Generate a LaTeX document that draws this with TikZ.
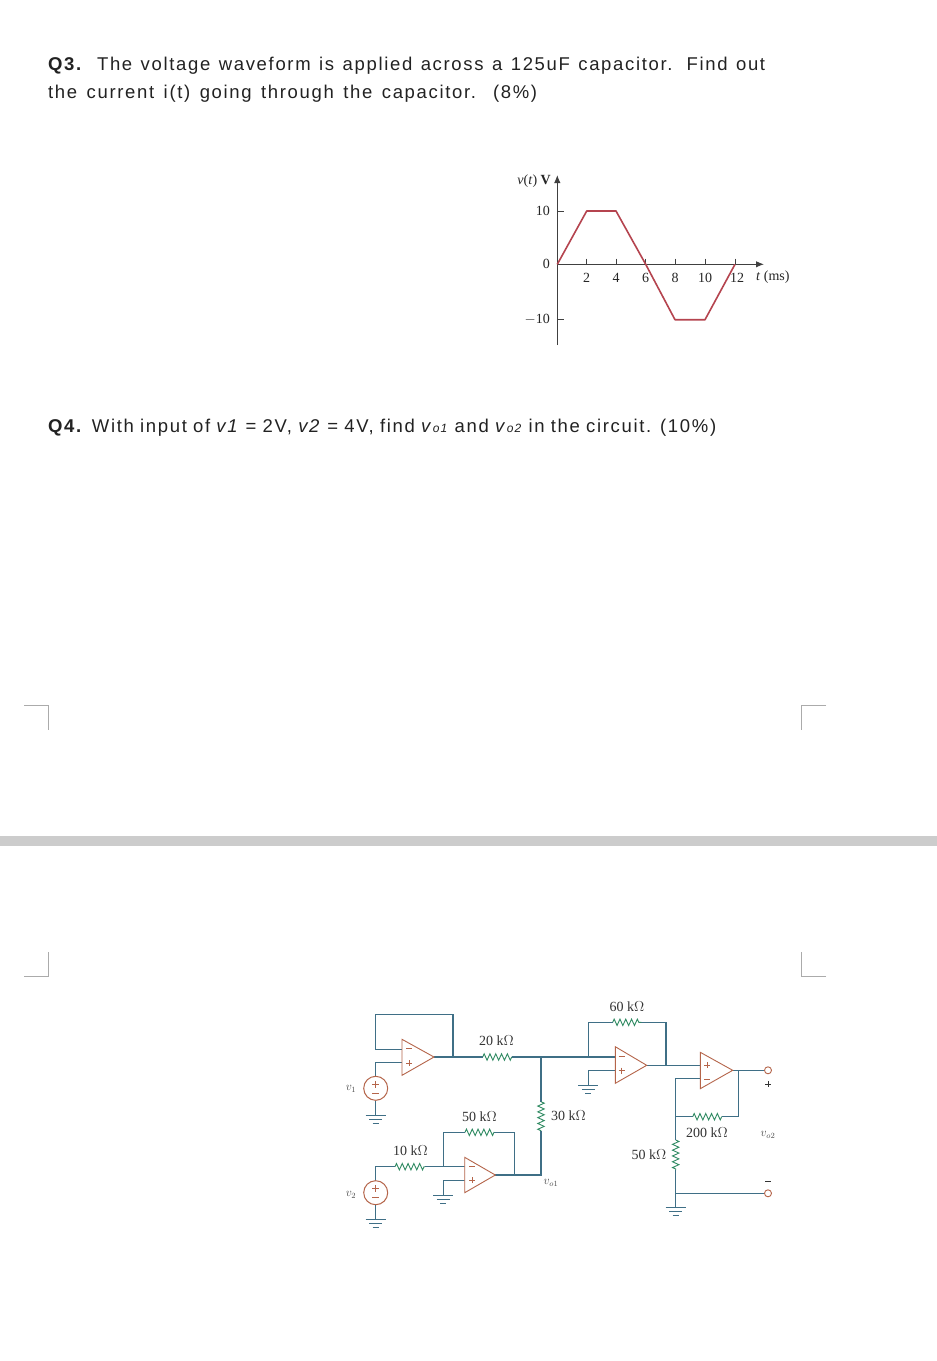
\documentclass[tikz,border=0pt]{standalone}
\usepackage{fontspec}
\setmainfont{Liberation Serif}
\newfontfamily\qfont[LetterSpace=9]{Liberation Sans}
\usetikzlibrary{decorations.pathmorphing,arrows.meta}
\definecolor{wirec}{HTML}{3F6F86}
\definecolor{resc}{HTML}{2F8A62}
\definecolor{ampc}{HTML}{B5654A}
\definecolor{wavec}{HTML}{B5444F}
\definecolor{cropc}{HTML}{ABABAB}
\definecolor{txt}{HTML}{222222}
\tikzset{
 x=1pt,y=-1pt,
 wire/.style={draw=wirec,line width=1.1pt},
 res/.style={draw=resc,line width=.9pt,decorate,decoration={zigzag,segment length=5.8pt,amplitude=3.2pt}},
 amp/.style={draw=ampc,line width=.9pt,fill=white},
 srcc/.style={draw=ampc,line width=1pt,fill=white},
 gnd/.style={draw=wirec,line width=1pt},
 term/.style={draw=ampc,line width=.9pt,fill=white},
 crop/.style={draw=cropc,line width=1pt},
 qtext/.style={anchor=base west,inner sep=0pt,font=\qfont\fontsize{18.5}{20}\selectfont,text=txt},
 clab/.style={inner sep=0pt,font=\fontsize{14}{16}\selectfont,text=black!80},
 glab/.style={inner sep=0pt,font=\fontsize{14}{16}\selectfont,text=black!85},
 sml/.style={inner sep=0pt,font=\itshape\fontsize{11.5}{13}\selectfont,text=black!70},
 axis/.style={draw=black!75,line width=1.1pt},
}
\newcommand{\gndsym}[2]{\draw[gnd] (#1-10,#2) -- (#1+10,#2) (#1-6.5,#2+4) -- (#1+6.5,#2+4) (#1-3,#2+8) -- (#1+3,#2+8);}
\newcommand{\src}[3]{\node[srcc,circle,minimum size=24pt,inner sep=0pt] (#3) at (#1,#2) {};
 \draw[ampc,line width=1pt] (#1-3.5,#2-4) -- (#1+3.5,#2-4) (#1,#2-7.5) -- (#1,#2-.5) (#1-3.5,#2+5) -- (#1+3.5,#2+5);}
\begin{document}
\begin{tikzpicture}
\useasboundingbox (0,0) rectangle (937,1361);
\fill[white] (0,0) rectangle (937,1361);
% text
\node[qtext] (q3a) at (48,70) {\makebox[717pt][s]{\textbf{Q3.} The voltage waveform is applied across a 125uF capacitor. Find out}};
\node[qtext] (q3b) at (48,98) {\makebox[489pt][s]{the current i(t) going through the capacitor. (8\%)}};
\node[qtext] (q4) at (48,432) {\makebox[668pt][s]{\textbf{Q4.} With input of \textit{v1} = 2V, \textit{v2} = 4V, find \textit{v}{\fontsize{12}{12}\selectfont\textit{o1}} and \textit{v}{\fontsize{12}{12}\selectfont\textit{o2}} in the circuit. (10\%)}};
% band and crops
\fill[black!20] (0,836) rectangle (937,846);
\draw[crop] (24,705) -- (48.5,705) -- (48.5,730);
\draw[crop] (826,705) -- (801.5,705) -- (801.5,730);
\draw[crop] (24,976) -- (48.5,976) -- (48.5,952);
\draw[crop] (826,976) -- (801.5,976) -- (801.5,952);
% graph
\coordinate (o) at (557.3,264.3);
\draw[axis,-{Latex[length=8pt,width=6.5pt]}] (557.3,345) -- (557.3,175);
\draw[axis,-{Latex[length=8pt,width=6.5pt]}] (o) -- (764,264.3);
\foreach \x in {586.7,616,645.7,675,705,735} \draw[black!75,line width=.8pt] (\x,258.5) -- (\x,264.3);
\foreach \y in {211,319.7} \draw[black!75,line width=.8pt] (557.3,\y) -- (564,\y);
\draw[wavec,line width=1.6pt,line join=round] (o) -- (586.7,211) -- (616,211) -- (645.7,264.3) -- (675,319.7) -- (705,319.7) -- (735,264.3);
\node[glab,anchor=east] (n10) at (550,211) {10};
\node[glab,anchor=east] (n0) at (550,264) {0};
\node[glab,anchor=east] (nm10) at (550,319.7) {$-$10};
\foreach \x/\t in {586.7/2,616/4,645.7/6,675/8,705/10,737/12} \node[glab] (t\t) at (\x,278) {\t};
\node[glab,anchor=west] (tl) at (756,277) {\textit{t} (ms)};
\node[glab,anchor=east] (vl) at (551,181) {\textit{v}(\textit{t}) \textbf{V}};
% opamp wires and parts
\coordinate (a1) at (434,1057); \coordinate (a2) at (646.7,1065.3); \coordinate (a3) at (495.3,1175); \coordinate (a4) at (732.7,1070.3);
% amp1
\draw[wire] (402,1049.3) -- (375.3,1049.3) -- (375.3,1014.7) -- (453,1014.7) -- (453,1057);
\draw[wire] (402,1062.7) -- (375.7,1062.7) -- (375.7,1076);
\draw[wire] (a1) -- (482.7,1057) (511.7,1057) -- (615.3,1057);
\draw[res] (482.7,1057) -- (511.7,1057);
\draw[wire] (541,1057) -- (541,1101.7) (541,1130.7) -- (541,1175) -- (a3);
\draw[res] (541,1101.7) -- (541,1130.7);
\draw[amp] (402,1039.3) -- (402,1075.3) -- (a1) -- cycle;
\src{375.7}{1088.3}{s1}
\draw[wire] (s1) -- (375.7,1115);
\gndsym{375.7}{1115}
% amp3
\draw[wire] (375.7,1181) -- (375.7,1166.7) -- (395,1166.7) (425,1166.7) -- (464.7,1166.7);
\draw[res] (395,1166.7) -- (425,1166.7);
\draw[wire] (443.3,1166.7) -- (443.3,1132.3) -- (465,1132.3) (494,1132.3) -- (514.7,1132.3) -- (514.7,1175);
\draw[res] (465,1132.3) -- (494,1132.3);
\draw[wire] (464.7,1180.3) -- (443.3,1180.3) -- (443.3,1195.7);
\gndsym{443.3}{1195.7}
\draw[amp] (464.7,1157.3) -- (464.7,1192.7) -- (a3) -- cycle;
\src{375.7}{1192.7}{s2}
\draw[wire] (s2) -- (375.7,1219);
\gndsym{375.7}{1219}
% amp2
\draw[wire] (588.3,1057) -- (588.3,1022.3) -- (612.7,1022.3) (641.3,1022.3) -- (666,1022.3) -- (666,1065.3);
\draw[res] (612.7,1022.3) -- (641.3,1022.3);
\draw[wire] (615.3,1070.7) -- (588.3,1070.7) -- (588.3,1085.3);
\gndsym{588.3}{1085.3}
\draw[wire] (a2) -- (700.3,1065.3);
\draw[amp] (615.3,1046.7) -- (615.3,1083.3) -- (a2) -- cycle;
% amp4
\node[term,circle,minimum size=7pt,inner sep=0pt] (t1) at (768,1070.3) {};
\node[term,circle,minimum size=7pt,inner sep=0pt] (t2) at (768,1193.3) {};
\draw[wire] (a4) -- (t1);
\draw[wire] (738.3,1070.3) -- (738.3,1116.7) -- (721.7,1116.7) (692.7,1116.7) -- (675.7,1116.7);
\draw[res] (692.7,1116.7) -- (721.7,1116.7);
\draw[wire] (700.3,1078.7) -- (675.7,1078.7) -- (675.7,1140) (675.7,1170) -- (675.7,1207.3);
\draw[res] (675.7,1140) -- (675.7,1170);
\draw[wire] (675.7,1193.3) -- (t2);
\gndsym{675.7}{1207.3}
\draw[amp] (700.3,1052.3) -- (700.3,1088.7) -- (a4) -- cycle;
% signs
\foreach \x/\y in {409/1063,621.5/1070.5,707/1065,472/1180}{\draw[ampc,line width=.9pt] (\x-3,\y) -- (\x+3,\y) (\x,\y-3) -- (\x,\y+3);}
\foreach \x/\y in {409/1048,621.5/1056.5,707/1079,472/1166}{\draw[ampc,line width=.9pt] (\x-3,\y) -- (\x+3,\y);}
\draw[black!80,line width=1pt] (765,1084) -- (771,1084) (768,1081) -- (768,1087) (765,1181) -- (771,1181);
% labels
\node[clab] (l20) at (496.5,1041) {20 k$\Omega$};
\node[clab] (l60) at (627,1007) {60 k$\Omega$};
\node[clab] (l50a) at (479.5,1116.5) {50 k$\Omega$};
\node[clab] (l10) at (410.5,1151) {10 k$\Omega$};
\node[clab] (l30) at (568.5,1116) {30 k$\Omega$};
\node[clab] (l200) at (707,1132.5) {200 k$\Omega$};
\node[clab] (l50b) at (649,1154.5) {50 k$\Omega$};
\node[sml] (v1) at (351,1089) {$v_1$};
\node[sml] (v2) at (351,1195) {$v_2$};
\node[sml] (vo1) at (551,1183) {$v_{o1}$};
\node[sml] (vo2) at (768,1135) {$v_{o2}$};
\end{tikzpicture}
\end{document}
